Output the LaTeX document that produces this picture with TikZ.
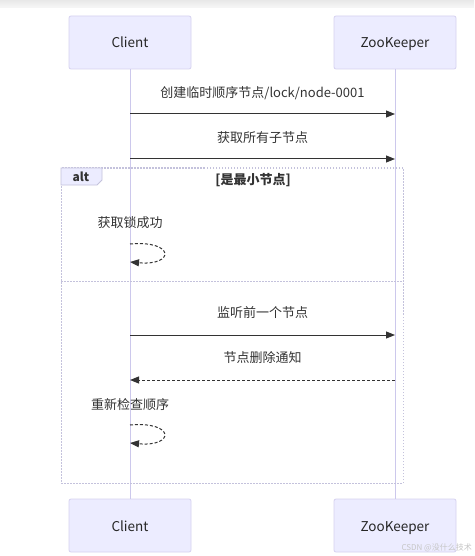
\documentclass[tikz,border=0pt]{standalone}
\usepackage{fontspec}
\setmainfont{Noto Sans CJK SC}
\usetikzlibrary{arrows.meta}
\definecolor{actfill}{HTML}{ECECFF}
\definecolor{actline}{HTML}{D6D2F0}
\definecolor{lifeline}{HTML}{CCC8EC}
\definecolor{msgcol}{HTML}{333333}
\definecolor{altline}{HTML}{C4C2DC}
\tikzset{
  actor/.style={draw=actline, fill=actfill, rounded corners=2pt, minimum width=122pt, minimum height=53pt, font=\fontsize{13.5}{15}\selectfont, text=black!85, text height=12pt, text depth=1pt, line width=0.8pt},
  msg/.style={draw=msgcol, line width=1pt, -{Triangle[length=9pt,width=7pt]}},
  reply/.style={msg, dash pattern=on 3pt off 2pt},
  lbl/.style={font=\fontsize{13}{14}\selectfont, text=msgcol, inner sep=0pt},
  life/.style={draw=lifeline, line width=1pt},
}
\begin{document}
\begin{tikzpicture}[x=1pt,y=-1pt]
\useasboundingbox (0,0) rectangle (474,556);
\fill[white] (0,0) rectangle (474,556);
\shade[top color=gray!18, bottom color=gray!6] (0,0) rectangle (474,8);
% actors
\node[actor] (ct) at (130,42.5) {Client};
\node[actor] (zt) at (395,42.5) {ZooKeeper};
\node[actor] (cb) at (130,525.5) {Client};
\node[actor] (zb) at (395,525.5) {ZooKeeper};
% lifelines
\draw[life] (ct.south) -- (cb.north);
\draw[life] (zt.south) -- (zb.north);
% coordinates on lifelines
\coordinate (c1) at (130,114); \coordinate (z1) at (395,114);
\coordinate (c2) at (130,159); \coordinate (z2) at (395,159);
\coordinate (c3) at (130,335); \coordinate (z3) at (395,335);
\coordinate (c4) at (130,380); \coordinate (z4) at (395,380);
% alt box
\draw[altline, line width=1pt, dash pattern=on 1.5pt off 1.5pt] (61,168) rectangle (403,483);
\draw[altline, line width=1pt, dash pattern=on 1.5pt off 1.5pt] (61,281) -- (403,281);
\filldraw[fill=actfill, draw=altline, line width=0.8pt] (61,168) -- (102,168) -- (102,180) -- (97,185) -- (61,185) -- cycle;
\node[lbl, font=\fontsize{12}{14}\selectfont\bfseries] (alt) at (81,177) {alt};
\node[lbl, font=\fontsize{13}{14}\selectfont\bfseries] (cond) at (253,180) {[是最小节点]};
% messages
\node[lbl] (m1) at (262.5,93) {创建临时顺序节点/lock/node-0001};
\draw[msg] (c1) -- (z1);
\node[lbl] (m2) at (262.5,138) {获取所有子节点};
\draw[msg] (c2) -- (z2);
\node[lbl] (m3) at (130,223) {获取锁成功};
\coordinate (s1a) at (130,244); \coordinate (s1b) at (130,262);
\draw[reply] (s1a) .. controls (175,240) and (175,266) .. (s1b);
\node[lbl] (m4) at (262.5,313) {监听前一个节点};
\draw[msg] (c3) -- (z3);
\node[lbl] (m5) at (262.5,358) {节点删除通知};
\draw[reply] (z4) -- (c4);
\node[lbl] (m6) at (130,405) {重新检查顺序};
\coordinate (s2a) at (130,425); \coordinate (s2b) at (130,443);
\draw[reply] (s2a) .. controls (175,421) and (175,447) .. (s2b);
% watermark
\node[font=\fontsize{8}{9}\selectfont, text=gray!45, anchor=east, inner sep=0pt] (wm) at (472,548) {CSDN @没什么技术};
\end{tikzpicture}
\end{document}
